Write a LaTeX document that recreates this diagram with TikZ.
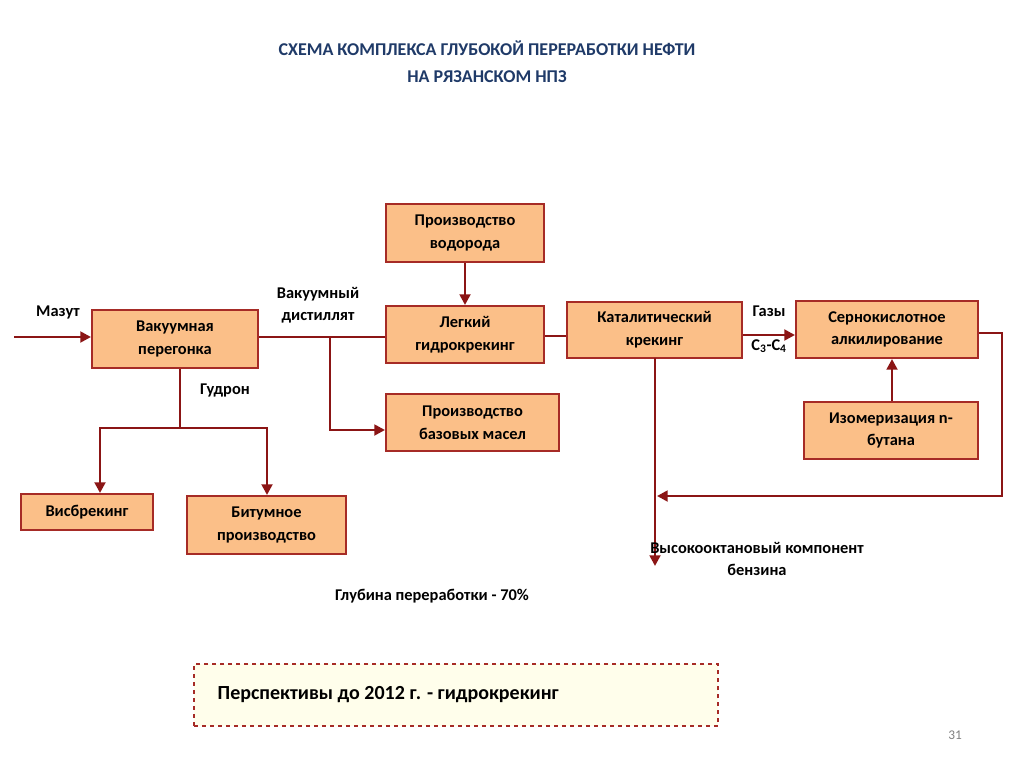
\documentclass[tikz,border=0pt]{standalone}
\usepackage{fontspec}
\setmainfont{Carlito}
\usetikzlibrary{arrows.meta}
\begin{document}
\begin{tikzpicture}[x=0.75pt,y=-0.75pt,
  box/.style={draw=boxline,fill=boxfill,line width=1.5pt,align=center,font=\bfseries\fontsize{12.3}{17}\selectfont,inner sep=0pt},
  lbl/.style={font=\bfseries\fontsize{12.3}{16.5}\selectfont,align=center},
  ln/.style={draw=flow,line width=2.2pt},
  ar/.style={ln,-{Triangle[length=8pt,width=8pt]}}]
\definecolor{boxfill}{HTML}{FBBF88}
\definecolor{boxline}{HTML}{A62B26}
\definecolor{flow}{HTML}{8B1515}
\definecolor{ttl}{HTML}{1F3A68}
\useasboundingbox (0,0) rectangle (1024,767);
\fill[white] (0,0) rectangle (1024,767);
\node[font=\bfseries\fontsize{13.5}{20}\selectfont,text=ttl,align=center] (title) at (487,62) {СХЕМА КОМПЛЕКСА ГЛУБОКОЙ ПЕРЕРАБОТКИ НЕФТИ\\НА РЯЗАНСКОМ НПЗ};
\newcommand\bx[6]{\node[box,minimum width=#4*0.75pt-#2*0.75pt,minimum height=#5*0.75pt-#3*0.75pt] (#1) at ({(#2+#4)/2},{(#3+#5)/2}) {#6};}
\bx{h2}{386}{204}{544}{262}{Производство\\водорода}
\bx{vp}{92}{310}{258}{368}{Вакуумная\\перегонка}
\bx{lg}{386}{306}{544}{363}{Легкий\\гидрокрекинг}
\bx{kk}{567}{302}{742}{358}{Каталитический\\крекинг}
\bx{sa}{796}{301}{978}{358}{Сернокислотное\\алкилирование}
\bx{iz}{804}{402}{978}{459}{Изомеризация n-\\бутана}
\bx{bm}{386}{394}{559}{451}{Производство\\базовых масел}
\bx{vb}{21}{494}{153}{530}{Висбрекинг}
\bx{bt}{187}{496}{346}{554}{Битумное\\производство}
\coordinate (in) at (14,337);
\draw[ar] (in) -- (in -| vp.west);
\node[lbl] (maz) at (58,312) {Мазут};
\draw[ln] (vp.east |- 0,337) -- (lg.west |- 0,337);
\coordinate (br) at (330,337);
\draw[ar] (br) |- (bm.west |- 0,430);
\node[lbl] (vd) at (318,305) {Вакуумный\\дистиллят};
\draw[ar] (h2.south -| 465,0) -- (lg.north -| 465,0);
\draw[ln] (lg.east |- 0,336) -- (kk.west |- 0,336);
\draw[ar] (kk.east |- 0,335) -- (sa.west |- 0,335);
\node[lbl] (gz) at (769,311) {Газы};
\node[lbl] (c34) at (769,346) {C\textsubscript{3}-C\textsubscript{4}};
\draw[ar] (iz.north -| 892,0) -- (sa.south -| 892,0);
\coordinate (kd) at (655,358);
\coordinate (ke) at (655,566);
\draw[ar] (kd) -- (ke);
\draw[ar] (sa.east |- 0,333) -| (1002,496) -- (657,496);
\node[lbl] (vk) at (757,559) {Высокооктановый компонент\\бензина};
\coordinate (gd) at (180,428);
\draw[ln] (vp.south -| gd) -- (gd);
\draw[ar] (gd) -| (vb.north -| 100,0);
\draw[ar] (gd) -| (bt.north -| 267,0);
\node[lbl] (gdr) at (225,390) {Гудрон};
\node[lbl] (gl) at (432,596) {Глубина переработки - 70\%};
\node[draw=boxline,dashed,line width=1.5pt,fill=yellow!8,minimum width=524*0.75pt,minimum height=62*0.75pt] (pr) at (456,695) {};
\node[anchor=west,font=\bfseries\fontsize{15}{18}\selectfont] (prt) at (213,695) {Перспективы до 2012 г. - гидрокрекинг};
\node[text=gray,font=\fontsize{10}{12}\selectfont] (pn) at (955,735) {31};
\end{tikzpicture}
\end{document}
